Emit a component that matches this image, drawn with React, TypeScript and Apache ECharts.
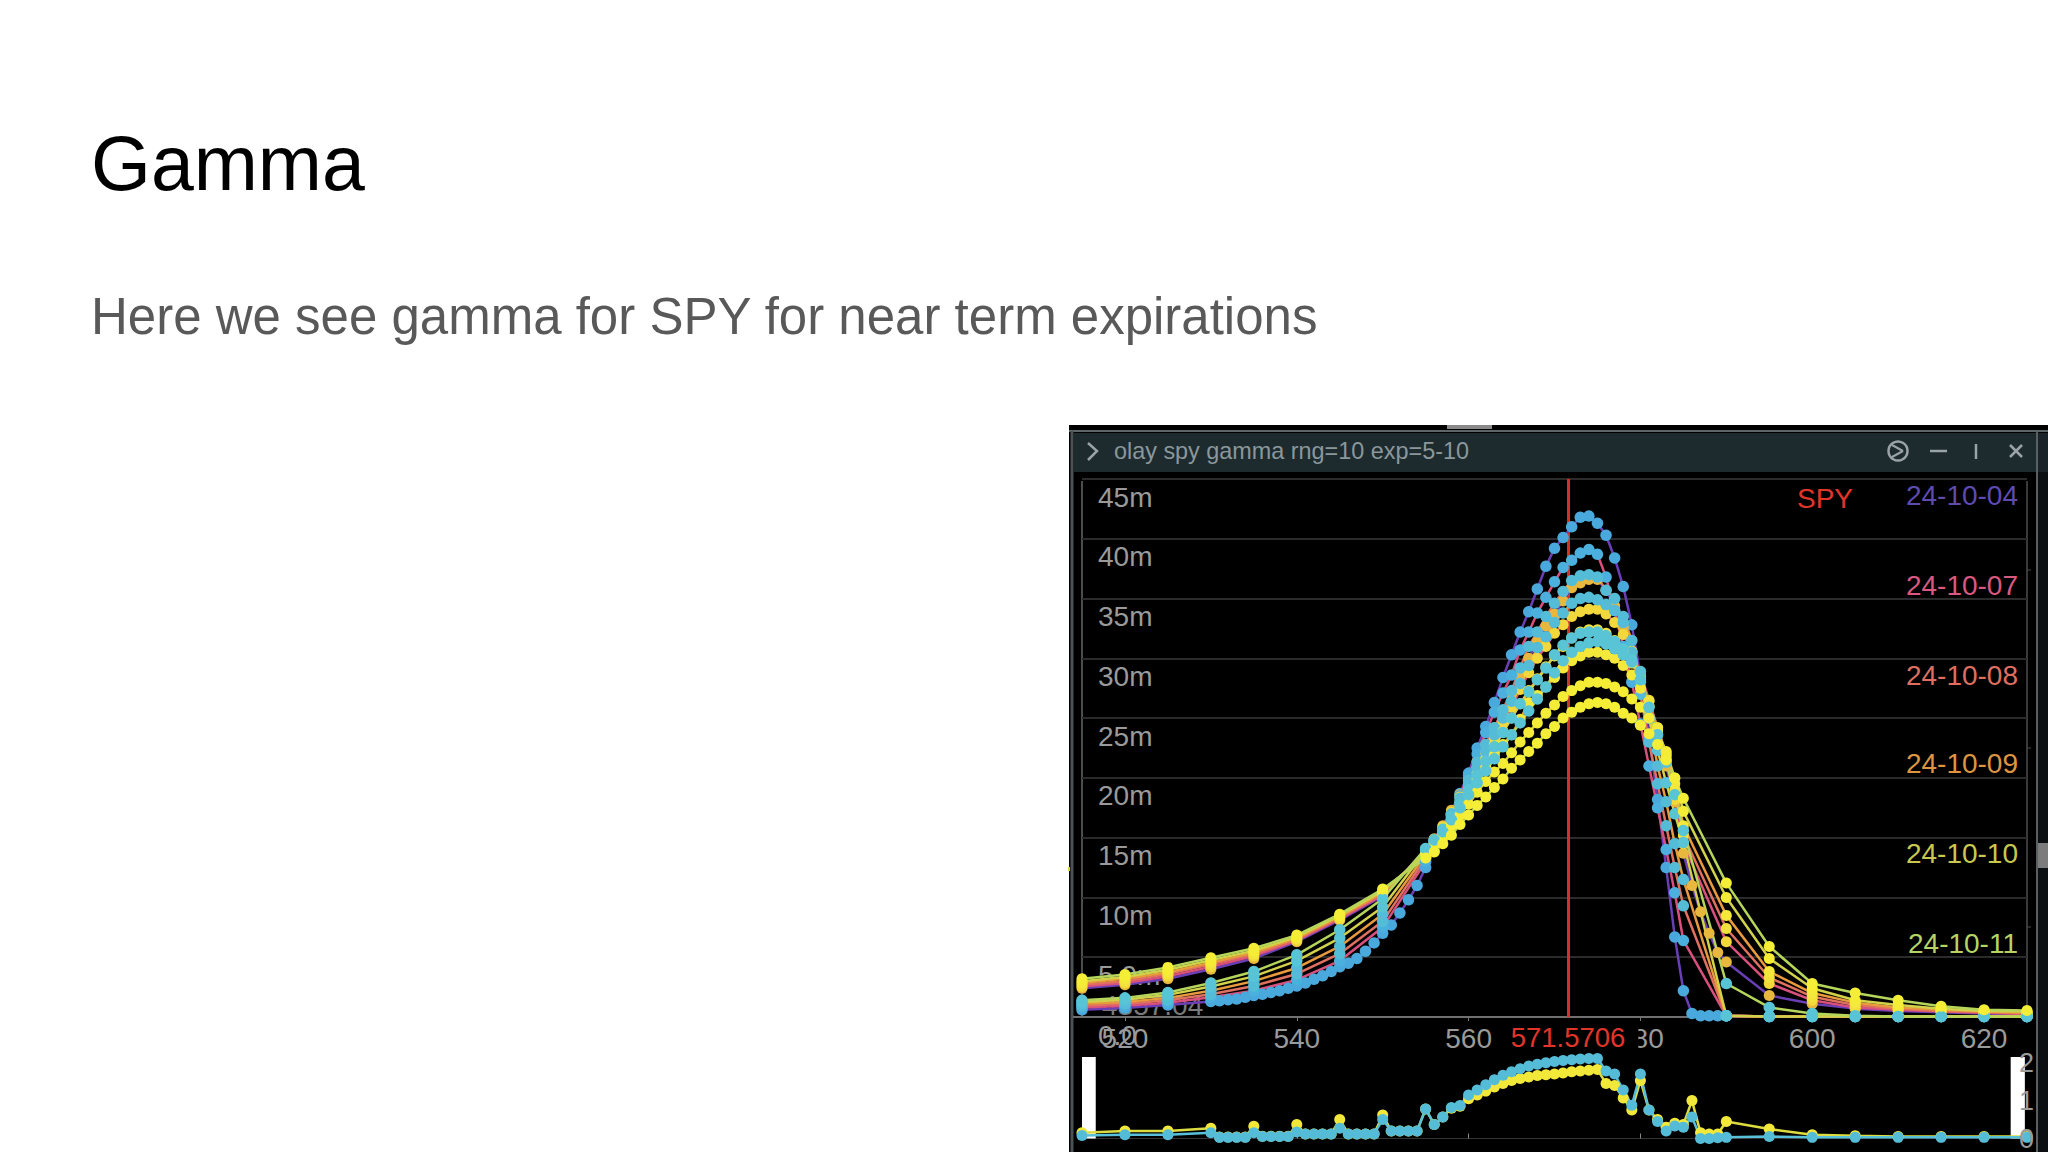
import React, { useEffect, useRef } from "react";
import * as echarts from "echarts";

const FONT = '"Liberation Sans", Arial, sans-serif';

const expiries = ["24-10-04", "24-10-07", "24-10-08", "24-10-09", "24-10-10", "24-10-11"];
const xTicks = [520, 540, 560, 580, 600, 620];
const yLabels = ["0.0", "5.0m", "10m", "15m", "20m", "25m", "30m", "35m", "40m", "45m"];
const spot = 571.5706;

// strikes quoted for the nearest expiry (finer spacing)
const strikesNear = [515, 520, 525, 530, 531, 532, 533, 534, 535, 536, 537, 538, 539, 540, 541, 542, 543, 544, 545, 546, 547, 548, 549, 550, 551, 552, 553, 554, 555, 556, 557, 558, 559, 560, 561, 562, 563, 564, 565, 566, 567, 568, 569, 570, 571, 572, 573, 574, 575, 576, 577, 578, 579, 580, 581, 582, 583, 584, 585, 586, 587, 588, 589, 590, 595, 600, 605, 610, 615, 620, 625];
// strikes for the near-expiry yellow set
const strikesNearY = [515, 520, 525, 530, 535, 540, 545, 550, 555, 556, 557, 558, 559, 560, 561, 562, 563, 564, 565, 566, 567, 568, 569, 570, 571, 572, 573, 574, 575, 576, 577, 578, 579, 580, 581, 582, 583, 584, 585, 586, 587, 588, 589, 590, 595, 600, 605, 610, 615, 620, 625];
// strikes for later expiries
const strikesRest = [515, 520, 525, 530, 535, 540, 545, 550, 555, 556, 557, 558, 559, 560, 561, 562, 563, 564, 565, 566, 567, 568, 569, 570, 571, 572, 573, 574, 575, 576, 577, 578, 579, 580, 581, 582, 583, 584, 585, 590, 595, 600, 605, 610, 615, 620, 625];

const blue04 = [0.6, 0.75, 1.0, 1.3, 1.35, 1.45, 1.5, 1.65, 1.8, 1.9, 2.05, 2.2, 2.4, 2.6, 2.85, 3.15, 3.45, 3.8, 4.2, 4.5, 4.9, 5.5, 6.2, 7.0, 7.7, 8.7, 9.8, 11.0, 12.5, 13.9, 15.4, 17.0, 18.7, 20.4, 22.5, 24.3, 26.3, 28.4, 30.3, 32.2, 33.9, 35.8, 37.7, 39.2, 40.1, 41.0, 41.8, 41.9, 41.3, 40.3, 38.4, 36.0, 32.8, 28.5, 23.5, 18.2, 12.5, 6.7, 2.2, 0.3, 0.1, 0.1, 0.1, 0.1, 0.05, 0.05, 0.05, 0.05, 0.05, 0.05, 0.05];
const blue07 = [0.8, 0.95, 1.2, 1.65, 2.2, 3.1, 4.7, 7.5, 13, 14.7, 15.6, 17, 18.5, 20.2, 22, 23.8, 25.5, 27.1, 28.6, 30.7, 32.2, 33.8, 35.1, 36.4, 37.6, 38.2, 38.8, 39.1, 38.7, 36.8, 34, 31, 28, 24.5, 21, 17.5, 14, 10.4, 6.4, 0.1, 0.05, 0.05, 0.05, 0.05, 0.05, 0.05, 0.05];
const blue08 = [0.95, 1.1, 1.4, 1.9, 2.6, 3.6, 5.3, 8.0, 13.3, 14.6, 15.6, 17, 18.3, 19.8, 21.3, 22.8, 24.2, 25.7, 27.3, 29.2, 31, 32.2, 33.5, 34.6, 35.6, 36.5, 36.9, 37, 36.8, 35.7, 35, 33, 30.5, 27, 23, 19.5, 16, 12.5, 9.3, 0.1, 0.05, 0.05, 0.05, 0.05, 0.05, 0.05, 0.05];
const blue09 = [1.1, 1.25, 1.6, 2.2, 3.0, 4.1, 5.9, 8.6, 13.6, 14.7, 15.6, 16.9, 18, 19.4, 20.8, 22.2, 23.6, 25, 26.4, 27.9, 29.4, 30.9, 31.8, 33, 33.8, 34.6, 35, 35.1, 34.9, 34.5, 34, 33.5, 31.5, 28, 25, 21, 18, 14.5, 11.5, 0.1, 0.05, 0.05, 0.05, 0.05, 0.05, 0.05, 0.05];
const blue10 = [1.25, 1.45, 1.85, 2.55, 3.4, 4.7, 6.6, 9.2, 13.9, 14.8, 15.7, 16.8, 17.8, 19, 20.2, 21.4, 22.6, 23.8, 25, 26.2, 27.2, 28.2, 29.2, 30.3, 31.1, 31.7, 32.1, 32.2, 32.2, 31.9, 31.4, 30.8, 29.9, 28.2, 25, 22.3, 19.6, 17, 14.6, 0.1, 0.05, 0.05, 0.05, 0.05, 0.05, 0.05, 0.05];
const blue11 = [1.4, 1.6, 2.05, 2.85, 3.8, 5.2, 7.3, 9.9, 14.1, 14.8, 15.5, 16.5, 17.5, 18.6, 19.6, 20.6, 21.6, 22.6, 23.6, 24.6, 25.6, 26.6, 27.6, 28.8, 29.8, 30.5, 31, 31.3, 31.4, 31.2, 30.8, 30.3, 29.7, 28.9, 25.9, 23.6, 21.3, 18.6, 15.6, 2.8, 0.8, 0.3, 0.1, 0.05, 0.05, 0.05, 0.05];

const yellow04 = [2.4, 2.7, 3.2, 4.0, 4.9, 6.3, 8.1, 10.1, 14, 14.9, 16, 17.3, 18.6, 20, 21.4, 22.8, 24.2, 25.6, 27, 28.5, 30, 31.4, 32.7, 33.7, 34.8, 35.9, 36.3, 36.6, 36.6, 35.7, 34.4, 32.6, 30.6, 28.4, 26, 23.6, 21, 18, 13.7, 11, 8.8, 7, 5.4, 4.6, 1.8, 1.1, 0.7, 0.5, 0.4, 0.3, 0.2];
const yellow07 = [2.55, 2.85, 3.4, 4.2, 5.1, 6.4, 8.2, 10.2, 13.9, 14.8, 15.9, 17.1, 18.4, 19.7, 20.9, 22.1, 23.3, 24.7, 25.9, 27.4, 28.8, 30, 31, 32.1, 32.8, 33.5, 33.9, 34.1, 34.1, 33.7, 33, 32, 30.6, 28.8, 26.5, 24, 21.5, 18.2, 14.5, 6.3, 2.8, 1.4, 0.8, 0.6, 0.45, 0.35, 0.25];
const yellow08 = [2.7, 3, 3.6, 4.4, 5.25, 6.5, 8.3, 10.3, 13.8, 14.6, 15.6, 16.7, 18, 19.2, 20.4, 21.6, 22.8, 23.9, 25, 26.2, 27.3, 28.3, 29.3, 30.2, 31, 31.7, 32.2, 32.4, 32.4, 32.1, 31.5, 30.7, 29.6, 28.2, 26.4, 24.2, 21.8, 19, 15.2, 7.4, 3.3, 1.7, 1.0, 0.7, 0.5, 0.4, 0.3];
const yellow09 = [2.85, 3.2, 3.75, 4.55, 5.4, 6.6, 8.4, 10.4, 13.7, 14.5, 15.4, 16.4, 17.6, 18.8, 19.9, 20.9, 21.9, 22.8, 23.6, 24.9, 26.3, 26.9, 27.6, 28.4, 29.2, 29.8, 30.2, 30.5, 30.5, 30.3, 30, 29.4, 28.6, 27.5, 26, 24.2, 22, 19.5, 16, 8.5, 3.8, 2, 1.2, 0.8, 0.6, 0.45, 0.35];
const yellow10 = [3.0, 3.35, 3.95, 4.75, 5.55, 6.7, 8.5, 10.55, 13.6, 14.4, 15.1, 16, 16.9, 17.8, 18.8, 19.7, 20.5, 21.2, 22.1, 23, 23.8, 24.6, 25.4, 26.1, 26.8, 27.3, 27.7, 28, 28, 27.9, 27.6, 27.2, 26.6, 25.9, 25, 23.8, 22.2, 20, 17.2, 10, 4.9, 2.4, 1.4, 1, 0.7, 0.5, 0.45];
const yellow11 = [3.2, 3.55, 4.15, 4.95, 5.75, 6.85, 8.6, 10.7, 13.3, 13.8, 14.5, 15.2, 16.1, 16.9, 17.7, 18.4, 19.2, 19.9, 20.8, 21.5, 22.2, 22.9, 23.7, 24.3, 25, 25.5, 25.9, 26.2, 26.3, 26.2, 25.9, 25.4, 25, 24.4, 23.7, 22.8, 21.5, 20, 18.3, 11.2, 5.9, 2.8, 2, 1.4, 0.9, 0.6, 0.55];

// lower panel
const lowerBlue = [0.08, 0.1, 0.1, 0.15, 0.03, 0.03, 0.03, 0.03, 0.15, 0.05, 0.05, 0.05, 0.05, 0.17, 0.12, 0.12, 0.12, 0.12, 0.27, 0.12, 0.12, 0.12, 0.12, 0.5, 0.2, 0.2, 0.2, 0.2, 0.78, 0.37, 0.57, 0.82, 0.87, 1.15, 1.28, 1.42, 1.55, 1.67, 1.76, 1.84, 1.91, 1.96, 2.0, 2.03, 2.06, 2.08, 2.1, 2.11, 2.11, 1.78, 1.7, 1.28, 0.88, 1.7, 0.75, 0.45, 0.2, 0.33, 0.3, 0.57, 0.0, 0.0, 0.02, 0.03, 0.05, 0.03, 0.03, 0.03, 0.03, 0.03, 0.03, 0.03];
const lowerYellow = [0.15, 0.2, 0.2, 0.27, 0.04, 0.04, 0.04, 0.04, 0.32, 0.06, 0.06, 0.06, 0.06, 0.37, 0.12, 0.12, 0.12, 0.12, 0.5, 0.12, 0.12, 0.12, 0.12, 0.62, 0.2, 0.2, 0.2, 0.2, 0.78, 0.37, 0.57, 0.8, 0.85, 1.05, 1.15, 1.25, 1.36, 1.45, 1.53, 1.58, 1.62, 1.66, 1.68, 1.7, 1.73, 1.76, 1.78, 1.8, 1.82, 1.45, 1.4, 1.07, 0.75, 1.53, 0.75, 0.5, 0.3, 0.4, 0.37, 1.0, 0.15, 0.12, 0.12, 0.45, 0.25, 0.1, 0.07, 0.05, 0.05, 0.05, 0.05];
const lowerWhiteBars = [[514.9, 516.6], [623.1, 624.75]];

const blueSets = [blue04, blue07, blue08, blue09, blue10, blue11];
const yellowSets = [yellow04, yellow07, yellow08, yellow09, yellow10, yellow11];

const lineColors = ["#6a3fb5", "#d9507e", "#e0705f", "#e89a3c", "#d2d24a", "#b5d65a"];
const labelColors = ["#5e4bb0", "#d9587f", "#de6f5e", "#dd9540", "#c8c850", "#b4d566"];
const blueMarks = ["#4aa9dc", "#4cb0de", "#55bcd8", "#55bcd8", "#58c4d6", "#58c4d6"];
const yellowMarks = ["#e8b83e", "#f2d83a", "#f2e23c", "#f4e83a", "#f5ec36", "#f5ee36"];
const labelY = [495, 585, 675, 763, 853, 943];

function zip(xs: number[], ys: number[]) {
  return ys.map((v, i) => [xs[i], v]);
}

function curve(name: string, xs: number[], ys: number[], line: string, mark: string, size: number, extra: any = {}) {
  return {
    type: "line",
    name,
    xAxisIndex: 0,
    yAxisIndex: 0,
    data: zip(xs, ys),
    symbol: "circle",
    symbolSize: size,
    clip: false,
    silent: true,
    lineStyle: { color: line, width: 2.5 },
    itemStyle: { color: mark, borderWidth: 0 },
    ...extra,
  };
}

export default function App() {
  const ref = useRef<HTMLDivElement>(null);
  useEffect(() => {
    document.body.style.margin = "0";
    const chart = echarts.init(ref.current!, undefined, { renderer: "svg" });
    const gray = "#9a9a9a";
    const series: any[] = [];
    expiries.forEach((exp, i) => {
      const extra =
        i === 0
          ? {
              markLine: {
                silent: true,
                symbol: "none",
                z: 1,
                animation: false,
                lineStyle: { color: "#cf3426", width: 3, type: "solid" },
                label: {
                  show: true,
                  position: "start",
                  distance: 4,
                  formatter: String(spot),
                  color: "#e0352b",
                  fontFamily: FONT,
                  fontSize: 27.5,
                  backgroundColor: "#000",
                  padding: [2, 13, 2, 13],
                },
                data: [{ xAxis: spot }],
              },
            }
          : {};
      series.push(curve(exp + " a", i === 0 ? strikesNear : strikesRest, blueSets[i], lineColors[i], blueMarks[i], 11.5, extra));
      series.push(curve(exp + " b", i === 0 ? strikesNearY : strikesRest, yellowSets[i], lineColors[i], yellowMarks[i], 11));
    });
    series.push({
      type: "line",
      name: "lower yellow",
      xAxisIndex: 1,
      yAxisIndex: 1,
      data: zip(strikesNear, lowerYellow),
      symbol: "circle",
      symbolSize: 11,
      clip: false,
      lineStyle: { color: "#dcdc40", width: 2.5 },
      itemStyle: { color: "#f2e83a" },
      markArea: {
        silent: true,
        z: 1,
        itemStyle: { color: "#ffffff", opacity: 1 },
        data: lowerWhiteBars.map(([a, b]) => [
          { xAxis: a, yAxis: 0 },
          { xAxis: b, yAxis: 2.15 },
        ]),
      },
    });
    series.push({
      type: "line",
      name: "lower blue",
      xAxisIndex: 1,
      yAxisIndex: 1,
      data: zip(strikesNear, lowerBlue),
      symbol: "circle",
      symbolSize: 11,
      clip: false,
      lineStyle: { color: "#58c0d8", width: 2.5 },
      itemStyle: { color: "#55bcd8" },
    });

    const L = (x1: number, y1: number, x2: number, y2: number, stroke: string, lineWidth = 2, z = 1) => ({
      type: "line",
      silent: true,
      z,
      shape: { x1, y1, x2, y2 },
      style: { stroke, lineWidth },
    });
    const R = (x: number, y: number, width: number, height: number, fill: string, z = -3) => ({
      type: "rect",
      silent: true,
      z,
      shape: { x, y, width, height },
      style: { fill },
    });
    const T = (text: string, x: number, y: number, fill: string, size: number, textAlign = "left", z = 1) => ({
      type: "text",
      silent: true,
      z,
      style: { text, x, y, fill, font: `${size}px ${FONT}`, textAlign, textVerticalAlign: "middle" },
    });

    const icon = "#9aa4a6";
    const elements: any[] = [
      R(1069, 425, 979, 727, "#000000"),
      R(1074, 433, 962, 39, "#1d2a2e", -2),
      R(2038, 433, 10, 39, "#1a2327", -2),
      R(2038, 472, 10, 680, "#0b0f11", -2),
      R(2038, 843, 10, 25, "#7c7c7c", -1),
      R(1447, 425, 45, 4, "#8a8a8a", -1),
      R(1068, 867, 2, 4, "#d8d83a", -1),
      L(1069, 431, 2048, 431, "#5c6668", 2, -1),
      L(1072, 431, 1072, 1152, "#4a5254", 3, -1),
      L(2037, 431, 2037, 1152, "#5a6062", 2, -1),
      L(1082, 481, 1082, 1017, "#4c4c4c", 2, -1),
      L(2027, 481, 2027, 1017, "#3a3a3a", 2, -1),
      L(2027, 570, 2031, 570, "#4c4c4c", 1, -1),
      L(2027, 748, 2031, 748, "#4c4c4c", 1, -1),
      L(2027, 927, 2031, 927, "#4c4c4c", 1, -1),
      L(1073, 1017, 2032, 1017, "#707070", 2, 1),
      {
        type: "polyline",
        silent: true,
        z: 1,
        shape: { points: [[1088, 443], [1097, 451], [1088, 460]] },
        style: { stroke: icon, lineWidth: 2.5, fill: "none" },
      },
      T("olay spy gamma rng=10 exp=5-10", 1114, 451, "#8b979a", 23.4),
      { type: "circle", silent: true, z: 1, shape: { cx: 1898, cy: 451, r: 9.5 }, style: { stroke: icon, lineWidth: 2.5, fill: "none" } },
      L(1892, 445, 1903, 451, icon, 2),
      L(1892, 457, 1903, 451, icon, 2),
      L(1930, 451, 1947, 451, icon, 2.5),
      L(1976, 444, 1976, 459, icon, 2.5),
      L(2010, 445, 2022, 457, icon, 2.5),
      L(2022, 445, 2010, 457, icon, 2.5),
      T("4357.04", 1102, 1005, "#7a7a7a", 28, "left", 1),
      T("SPY", 1797, 498, "#e0352b", 28, "left", 3),
      ...expiries.map((e, i) => T(e, 2018, labelY[i], labelColors[i], 28, "right", 3)),
    ];

    chart.setOption({
      animation: false,
      backgroundColor: "#ffffff",
      title: [
        { text: "Gamma", left: 86, top: 119, textStyle: { fontFamily: FONT, fontSize: 77, fontWeight: "normal", color: "#000000" } },
        { text: "Here we see gamma for SPY for near term expirations", left: 86, top: 286, textStyle: { fontFamily: FONT, fontSize: 51, fontWeight: "normal", color: "#595959" } },
      ],
      grid: [
        { left: 1082, top: 479, width: 945, height: 538, containLabel: false },
        { left: 1082, top: 1057, width: 945, height: 90, containLabel: false },
      ],
      xAxis: [
        {
          type: "value",
          gridIndex: 0,
          min: 515,
          max: 625,
          splitLine: { show: false },
          axisLine: { show: false },
          axisTick: { show: true, length: 4, customValues: xTicks, lineStyle: { color: "#777" } },
          axisLabel: { customValues: xTicks, color: gray, fontFamily: FONT, fontSize: 28, margin: 7, hideOverlap: false, showMinLabel: true, showMaxLabel: true },
        },
        {
          type: "value",
          gridIndex: 1,
          min: 515,
          max: 625,
          splitLine: { show: false },
          axisLine: { show: true, lineStyle: { color: "#333", width: 1 } },
          axisTick: { show: true, length: 5, inside: true, customValues: xTicks, lineStyle: { color: "#888" } },
          axisLabel: { show: false },
        },
      ],
      yAxis: [
        {
          type: "value",
          gridIndex: 0,
          min: 0,
          max: 45,
          interval: 5,
          axisLine: { show: false },
          axisTick: { show: false },
          splitLine: { show: true, lineStyle: { color: "#2b2b2b", width: 2 } },
          axisLabel: {
            inside: true,
            margin: 16,
            align: "left",
            verticalAlign: "top",
            lineHeight: 36,
            color: gray,
            fontFamily: FONT,
            fontSize: 28,
            showMinLabel: true,
            showMaxLabel: true,
            formatter: (v: number) => yLabels[Math.round(v / 5)],
          },
        },
        {
          type: "value",
          gridIndex: 1,
          position: "right",
          min: -0.1,
          max: 2.15,
          z: 10,
          axisLine: { show: false },
          axisTick: { show: false },
          splitLine: { show: false },
          axisLabel: { customValues: [0, 1, 2], margin: -8, color: gray, fontFamily: FONT, fontSize: 27, hideOverlap: false },
        },
      ],
      graphic: { elements },
      series,
    });
    return () => chart.dispose();
  }, []);
  return <div ref={ref} style={{ position: "absolute", left: 0, top: 0, width: 2048, height: 1152 }} />;
}
